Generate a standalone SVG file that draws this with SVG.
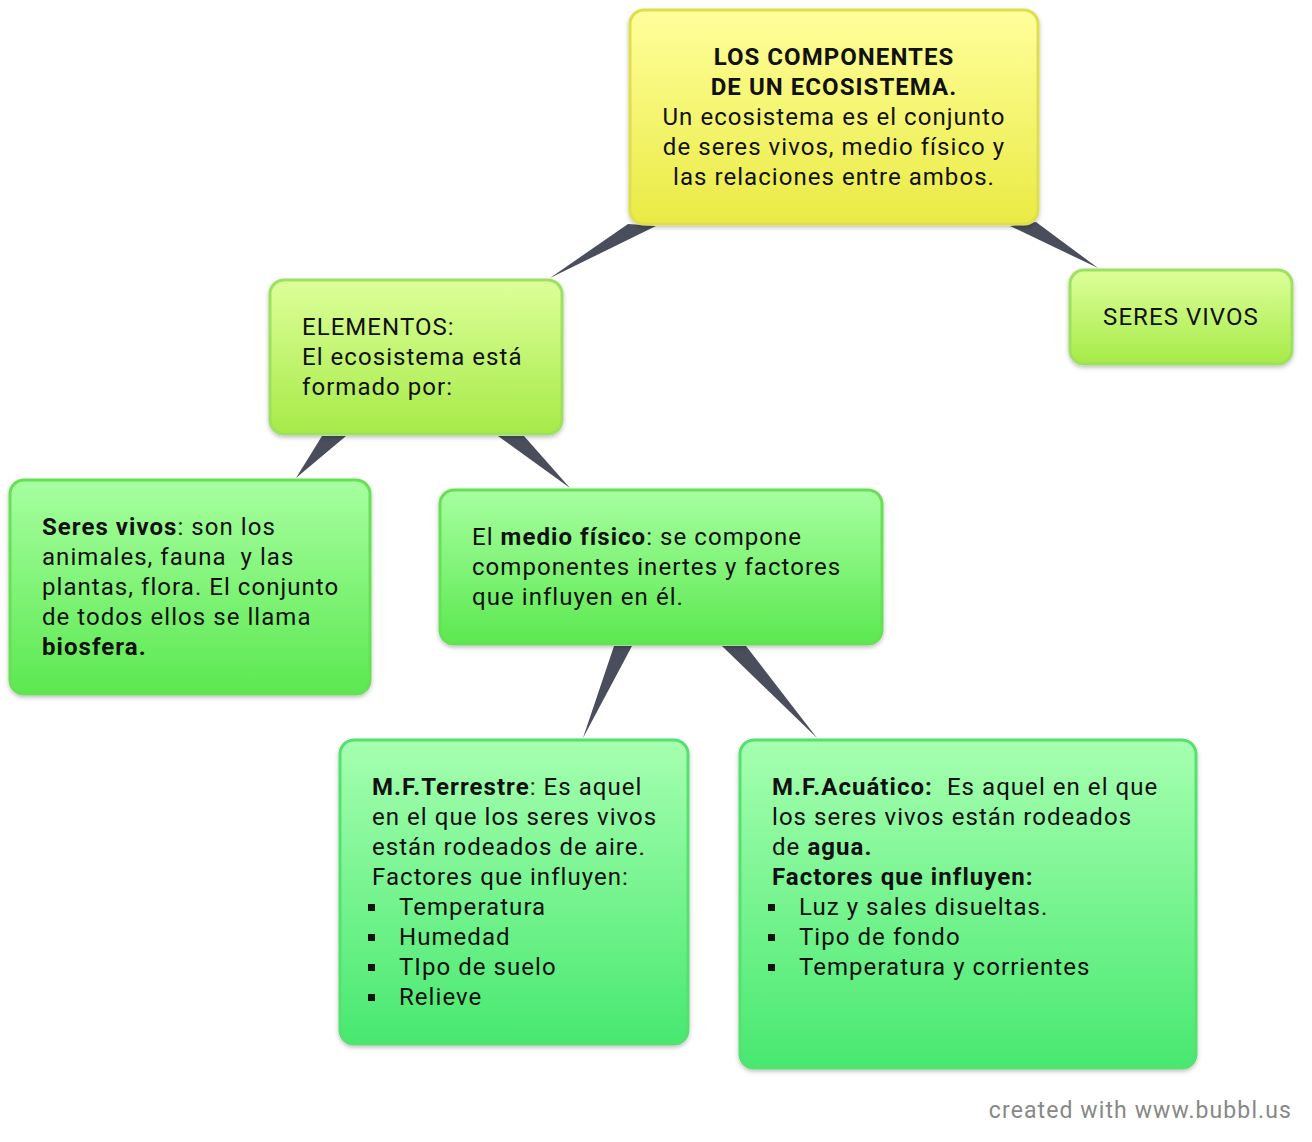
<svg xmlns="http://www.w3.org/2000/svg" width="1312" height="1142" viewBox="0 0 1312 1142">
<defs>
<linearGradient id="gy" x1="0" y1="0" x2="0" y2="1"><stop offset="0" stop-color="#ffff9c"/><stop offset="1" stop-color="#eaea44"/></linearGradient>
<linearGradient id="gl" x1="0" y1="0" x2="0" y2="1"><stop offset="0" stop-color="#ddff99"/><stop offset="1" stop-color="#a6ea48"/></linearGradient>
<linearGradient id="gg" x1="0" y1="0" x2="0" y2="1"><stop offset="0" stop-color="#a6ffa0"/><stop offset="1" stop-color="#5ce850"/></linearGradient>
<linearGradient id="gt" x1="0" y1="0" x2="0" y2="1"><stop offset="0" stop-color="#a6ffb0"/><stop offset="1" stop-color="#48e870"/></linearGradient>
<filter id="sh" x="-10%" y="-10%" width="120%" height="130%"><feDropShadow dx="0" dy="2" stdDeviation="2" flood-opacity="0.25"/></filter>
</defs>
<style>
text{font-family:Roboto,"Liberation Sans",sans-serif;font-size:24px;letter-spacing:1.05px;fill:#111}
.b{font-weight:bold}
.y{fill:url(#gy);stroke:#dede50;stroke-width:3}
.l{fill:url(#gl);stroke:#9ee060;stroke-width:3}
.g{fill:url(#gg);stroke:#66e055;stroke-width:3}
.t{fill:url(#gt);stroke:#55e070;stroke-width:3}
.c{fill:#4a4e5c}
</style>
<rect width="1312" height="1142" fill="#fff"/>
<g id="connectors">
<polygon class="c" points="628,224 656,226 550,278"/>
<polygon class="c" points="1010,226 1036,222 1098,268"/>
<polygon class="c" points="322,436 346,436 296,478"/>
<polygon class="c" points="498,436 524,436 570,488"/>
<polygon class="c" points="614,646 632,646 583,738"/>
<polygon class="c" points="722,646 746,646 817,738"/>
</g>
<g id="root"><rect class="y" x="630" y="10" width="408" height="214" rx="14" filter="url(#sh)"/>
<text x="834" text-anchor="middle"><tspan class="b" x="834" y="65">LOS COMPONENTES</tspan><tspan class="b" x="834" y="95">DE UN ECOSISTEMA.</tspan><tspan x="834" y="125">Un ecosistema es el conjunto</tspan><tspan x="834" y="155">de seres vivos, medio físico y</tspan><tspan x="834" y="185">las relaciones entre ambos.</tspan></text></g>
<g id="seresvivos2"><rect class="l" x="1070" y="270" width="222" height="94" rx="14" filter="url(#sh)"/>
<text x="1181" y="325" text-anchor="middle">SERES VIVOS</text></g>
<g id="elementos"><rect class="l" x="270" y="280" width="292" height="154" rx="14" filter="url(#sh)"/>
<text><tspan x="302" y="335">ELEMENTOS:</tspan><tspan x="302" y="365">El ecosistema está</tspan><tspan x="302" y="395">formado por:</tspan></text></g>
<g id="seresvivos"><rect class="g" x="10" y="480" width="360" height="214" rx="14" filter="url(#sh)"/>
<text><tspan x="42" y="535"><tspan class="b">Seres vivos</tspan>: son los</tspan><tspan x="42" y="565">animales, fauna&#160; y las</tspan><tspan x="42" y="595">plantas, flora. El conjunto</tspan><tspan x="42" y="625">de todos ellos se llama</tspan><tspan x="42" y="655" class="b">biosfera.</tspan></text></g>
<g id="medio"><rect class="g" x="440" y="490" width="442" height="154" rx="14" filter="url(#sh)"/>
<text><tspan x="472" y="545">El <tspan class="b">medio físico</tspan>: se compone</tspan><tspan x="472" y="575">componentes inertes y factores</tspan><tspan x="472" y="605">que influyen en él.</tspan></text></g>
<g id="terrestre"><rect class="t" x="340" y="740" width="348" height="304" rx="14" filter="url(#sh)"/>
<text><tspan x="372" y="795"><tspan class="b">M.F.Terrestre</tspan>: Es aquel</tspan><tspan x="372" y="825">en el que los seres vivos</tspan><tspan x="372" y="855">están rodeados de aire.</tspan><tspan x="372" y="885">Factores que influyen:</tspan><tspan x="399" y="915">Temperatura</tspan><tspan x="399" y="945">Humedad</tspan><tspan x="399" y="975">TIpo de suelo</tspan><tspan x="399" y="1005">Relieve</tspan></text>
<rect x="368" y="904" width="7" height="7" fill="#111"/><rect x="368" y="934" width="7" height="7" fill="#111"/><rect x="368" y="964" width="7" height="7" fill="#111"/><rect x="368" y="994" width="7" height="7" fill="#111"/></g>
<g id="acuatico"><rect class="t" x="740" y="740" width="456" height="328" rx="14" filter="url(#sh)"/>
<text><tspan x="772" y="795"><tspan class="b">M.F.Acuático:</tspan>&#160; Es aquel en el que</tspan><tspan x="772" y="825">los seres vivos están rodeados</tspan><tspan x="772" y="855">de <tspan class="b">agua.</tspan></tspan><tspan x="772" y="885" class="b">Factores que influyen:</tspan><tspan x="799" y="915">Luz y sales disueltas.</tspan><tspan x="799" y="945">Tipo de fondo</tspan><tspan x="799" y="975">Temperatura y corrientes</tspan></text>
<rect x="768" y="904" width="7" height="7" fill="#111"/><rect x="768" y="934" width="7" height="7" fill="#111"/><rect x="768" y="964" width="7" height="7" fill="#111"/></g>
<text x="1292" y="1118" text-anchor="end" style="fill:#888;font-size:23px;letter-spacing:1.1px">created with www.bubbl.us</text>
</svg>
